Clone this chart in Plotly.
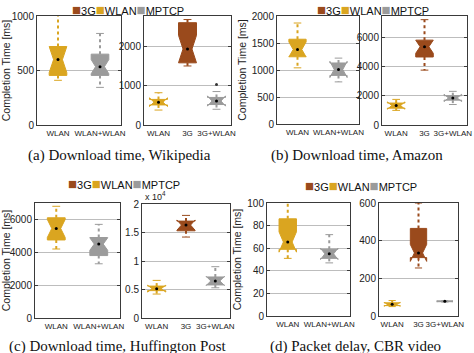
import plotly.graph_objects as go

W, H = 474, 353
SANS = "Liberation Sans"
SERIF = "Liberation Serif"
FRAME = "#3a3a3a"
GRID = "#bdbdbd"
COLORS = {"3G": "#9A4A1C", "WLAN": "#DAA520", "MPTCP": "#9b9b9b"}

# ---------------- data (ms) ----------------
CATS_PAIR = ["WLAN", "WLAN+WLAN"]
GROUPS_PAIR = ["WLAN", "MPTCP"]
CATS_TRIO = ["WLAN", "3G", "3G+WLAN"]
GROUPS_TRIO = ["WLAN", "3G", "MPTCP"]

# (a) Download time, Wikipedia
wiki_pair_low = [410, 345]
wiki_pair_q1 = [455, 455]
wiki_pair_med = [600, 535]
wiki_pair_q3 = [720, 650]
wiki_pair_high = [1100, 840]
wiki_pair_notch = [120, 65]

wiki_trio_low = [380, 1500, 400]
wiki_trio_q1 = [510, 1580, 520]
wiki_trio_med = [580, 1930, 610]
wiki_trio_q3 = [650, 2600, 700]
wiki_trio_high = [820, 2680, 850]
wiki_trio_notch = [110, 350, 130]
wiki_trio_out_cat = [3]
wiki_trio_out_val = [1030]

# (b) Download time, Amazon
amzn_pair_low = [1040, 780]
amzn_pair_q1 = [1245, 900]
amzn_pair_med = [1380, 1010]
amzn_pair_q3 = [1570, 1130]
amzn_pair_high = [1870, 1220]
amzn_pair_notch = [140, 150]

amzn_trio_low = [1000, 3750, 1400]
amzn_trio_q1 = [1150, 4650, 1700]
amzn_trio_med = [1330, 5350, 1850]
amzn_trio_q3 = [1500, 5800, 2000]
amzn_trio_high = [1750, 7200, 2300]
amzn_trio_notch = [250, 450, 250]

# (c) Download time, Huffington Post
huff_pair_low = [4200, 3300]
huff_pair_q1 = [4750, 3800]
huff_pair_med = [5450, 4500]
huff_pair_q3 = [6100, 4900]
huff_pair_high = [6800, 5700]
huff_pair_notch = [550, 380]

huff_trio_low = [4200, 14200, 5300]
huff_trio_q1 = [4800, 15300, 5800]
huff_trio_med = [5150, 16300, 6500]
huff_trio_q3 = [5600, 17000, 7200]
huff_trio_high = [6600, 18000, 9000]
huff_trio_notch = [600, 900, 800]

# (d) Packet delay, CBR video
cbr_pair_low = [51, 47]
cbr_pair_q1 = [59, 51]
cbr_pair_med = [65.5, 55]
cbr_pair_q3 = [86, 59]
cbr_pair_high = [110, 72]
cbr_pair_notch = [9, 5]

cbr_trio_low = [50, 255, 74]
cbr_trio_q1 = [55, 310, 76]
cbr_trio_med = [62, 335, 78]
cbr_trio_q3 = [70, 465, 80]
cbr_trio_high = [82, 600, 82]
cbr_trio_notch = [10, 45, 2]

# tick values / labels
wiki_pair_ticks = [0, 500, 1000]
wiki_trio_ticks = [0, 1000, 2000]
amzn_pair_ticks = [0, 500, 1000, 1500, 2000]
amzn_trio_ticks = [0, 2000, 4000, 6000]
huff_pair_ticks = [0, 2000, 4000, 6000]
huff_trio_ticks = [0, 5000, 10000, 15000, 20000]
huff_trio_ticktext = ["0", "0.5", "1", "1.5", "2"]
cbr_pair_ticks = [0, 20, 40, 60, 80, 100]
cbr_trio_ticks = [0, 200, 400, 600]

CAPTIONS = ["(a) Download time, Wikipedia", "(b) Download time, Amazon",
            "(c) Download time, Huffington Post", "(d) Packet delay, CBR video"]
YTITLE = "Completion Time [ms]"

# ---------------- layout of panels (pixels) ----------------
panels = [
    (CATS_PAIR, GROUPS_PAIR, (wiki_pair_low, wiki_pair_q1, wiki_pair_med, wiki_pair_q3, wiki_pair_high, wiki_pair_notch),
     wiki_pair_ticks, None, 1000, (37, 121, 16, 125), 0.42, True),
    (CATS_TRIO, GROUPS_TRIO, (wiki_trio_low, wiki_trio_q1, wiki_trio_med, wiki_trio_q3, wiki_trio_high, wiki_trio_notch),
     wiki_trio_ticks, None, 2770, (144, 231, 16, 125), 0.62, False),
    (CATS_PAIR, GROUPS_PAIR, (amzn_pair_low, amzn_pair_q1, amzn_pair_med, amzn_pair_q3, amzn_pair_high, amzn_pair_notch),
     amzn_pair_ticks, None, 2000, (277, 359, 16, 124), 0.42, True),
    (CATS_TRIO, GROUPS_TRIO, (amzn_trio_low, amzn_trio_q1, amzn_trio_med, amzn_trio_q3, amzn_trio_high, amzn_trio_notch),
     amzn_trio_ticks, None, 7450, (382, 467, 16, 125), 0.62, False),
    (CATS_PAIR, GROUPS_PAIR, (huff_pair_low, huff_pair_q1, huff_pair_med, huff_pair_q3, huff_pair_high, huff_pair_notch),
     huff_pair_ticks, None, 7000, (35, 120, 203, 318), 0.42, True),
    (CATS_TRIO, GROUPS_TRIO, (huff_trio_low, huff_trio_q1, huff_trio_med, huff_trio_q3, huff_trio_high, huff_trio_notch),
     huff_trio_ticks, huff_trio_ticktext, 20000, (142, 230, 204, 318), 0.62, False),
    (CATS_PAIR, GROUPS_PAIR, (cbr_pair_low, cbr_pair_q1, cbr_pair_med, cbr_pair_q3, cbr_pair_high, cbr_pair_notch),
     cbr_pair_ticks, None, 100, (267, 350, 203, 316), 0.42, True),
    (CATS_TRIO, GROUPS_TRIO, (cbr_trio_low, cbr_trio_q1, cbr_trio_med, cbr_trio_q3, cbr_trio_high, cbr_trio_notch),
     cbr_trio_ticks, None, 600, (379, 458, 203, 316), 0.62, False),
]

fig = go.Figure()
layout = {}

for i, (cats, groups, stats, ticks, ttext, ymax, dom, bw, ytitle) in enumerate(panels, start=1):
    xa = "x" if i == 1 else f"x{i}"
    ya = "y" if i == 1 else f"y{i}"
    low, q1, med, q3, high, notch = stats
    for k, g in enumerate(groups):
        pos = k + 1
        c = COLORS[g]
        fig.add_trace(go.Box(
            x=[pos], q1=[q1[k]], median=[med[k]], q3=[q3[k]],
            lowerfence=[q1[k]], upperfence=[q3[k]], notchspan=[notch[k]],
            notched=True, notchwidth=0.25, width=bw, whiskerwidth=0,
            fillcolor=c, line=dict(color=c, width=1), boxpoints=False,
            xaxis=xa, yaxis=ya, showlegend=False, hoverinfo="skip"))
        cw = bw * 0.22
        fig.add_trace(go.Scatter(
            x=[pos, pos, None, pos, pos], y=[q3[k], high[k], None, q1[k], low[k]],
            mode="lines", line=dict(color=c, width=2, dash="dot"),
            xaxis=xa, yaxis=ya, showlegend=False, hoverinfo="skip"))
        fig.add_trace(go.Scatter(
            x=[pos - cw, pos + cw, None, pos - cw, pos + cw], y=[high[k], high[k], None, low[k], low[k]],
            mode="lines", line=dict(color=c, width=1),
            xaxis=xa, yaxis=ya, showlegend=False, hoverinfo="skip"))
        fig.add_trace(go.Scatter(
            x=[pos], y=[med[k]], mode="markers", marker=dict(color="black", size=3),
            xaxis=xa, yaxis=ya, showlegend=False, hoverinfo="skip"))
    if i == 2:
        fig.add_trace(go.Scatter(
            x=wiki_trio_out_cat, y=wiki_trio_out_val, mode="markers",
            marker=dict(color="#333", size=3),
            xaxis=xa, yaxis=ya, showlegend=False, hoverinfo="skip"))

    x0, x1, y0, y1 = dom
    n = len(cats)
    layout["xaxis" if i == 1 else f"xaxis{i}"] = dict(
        domain=[x0 / W, x1 / W], range=[0.5, n + 0.5], tickvals=list(range(1, n + 1)),
        ticktext=cats, showgrid=False, zeroline=False, showline=True, mirror=True,
        linecolor=FRAME, linewidth=1, ticks="", anchor=ya, tickangle=0, automargin=False,
        tickfont=dict(family=SANS, size=8, color="#222"))
    yax = dict(
        domain=[1 - y1 / H, 1 - y0 / H], range=[0, ymax], tickvals=ticks,
        showgrid=True, gridcolor=GRID, gridwidth=1, zeroline=False, showline=True,
        mirror="ticks", linecolor=FRAME, linewidth=1, ticks="inside", ticklen=3,
        tickcolor=FRAME, anchor=xa, automargin=False,
        tickfont=dict(family=SANS, size=10, color="#222"))
    if ttext is not None:
        yax["ticktext"] = ttext
    if ytitle:
        yax["title"] = dict(text=YTITLE, font=dict(family=SANS, size=10.5, color="#222"), standoff=3)
    layout["yaxis" if i == 1 else f"yaxis{i}"] = yax

annotations = []


def legend_text():
    parts = []
    for g in ("3G", "WLAN", "MPTCP"):
        parts.append(f'<span style="color:{COLORS[g]};font-size:15px">■</span>{g}')
    return "".join(parts)


for cx, cy in ((128, 9), (373, 9), (124, 183), (361, 185)):
    annotations.append(dict(text=legend_text(), x=cx / W, y=1 - cy / H, xref="paper", yref="paper",
                            xanchor="center", yanchor="middle", showarrow=False,
                            font=dict(family=SANS, size=11, color="#111")))
for txt, (cx, cy) in zip(CAPTIONS, ((119, 155), (357, 155), (118, 346), (355, 346))):
    annotations.append(dict(text=txt, x=cx / W, y=1 - cy / H, xref="paper", yref="paper",
                            xanchor="center", yanchor="middle", showarrow=False,
                            font=dict(family=SERIF, size=15, color="#111")))
annotations.append(dict(text="x 10<sup>4</sup>", x=143 / W, y=1 - 204 / H, xref="paper", yref="paper",
                        xanchor="left", yanchor="bottom", showarrow=False,
                        font=dict(family=SANS, size=9, color="#222")))

fig.update_layout(
    width=W, height=H, margin=dict(l=0, r=0, t=0, b=0, autoexpand=False),
    paper_bgcolor="white", plot_bgcolor="white", boxmode="overlay",
    annotations=annotations, showlegend=False, **layout)

fig.write_html("out.html")
